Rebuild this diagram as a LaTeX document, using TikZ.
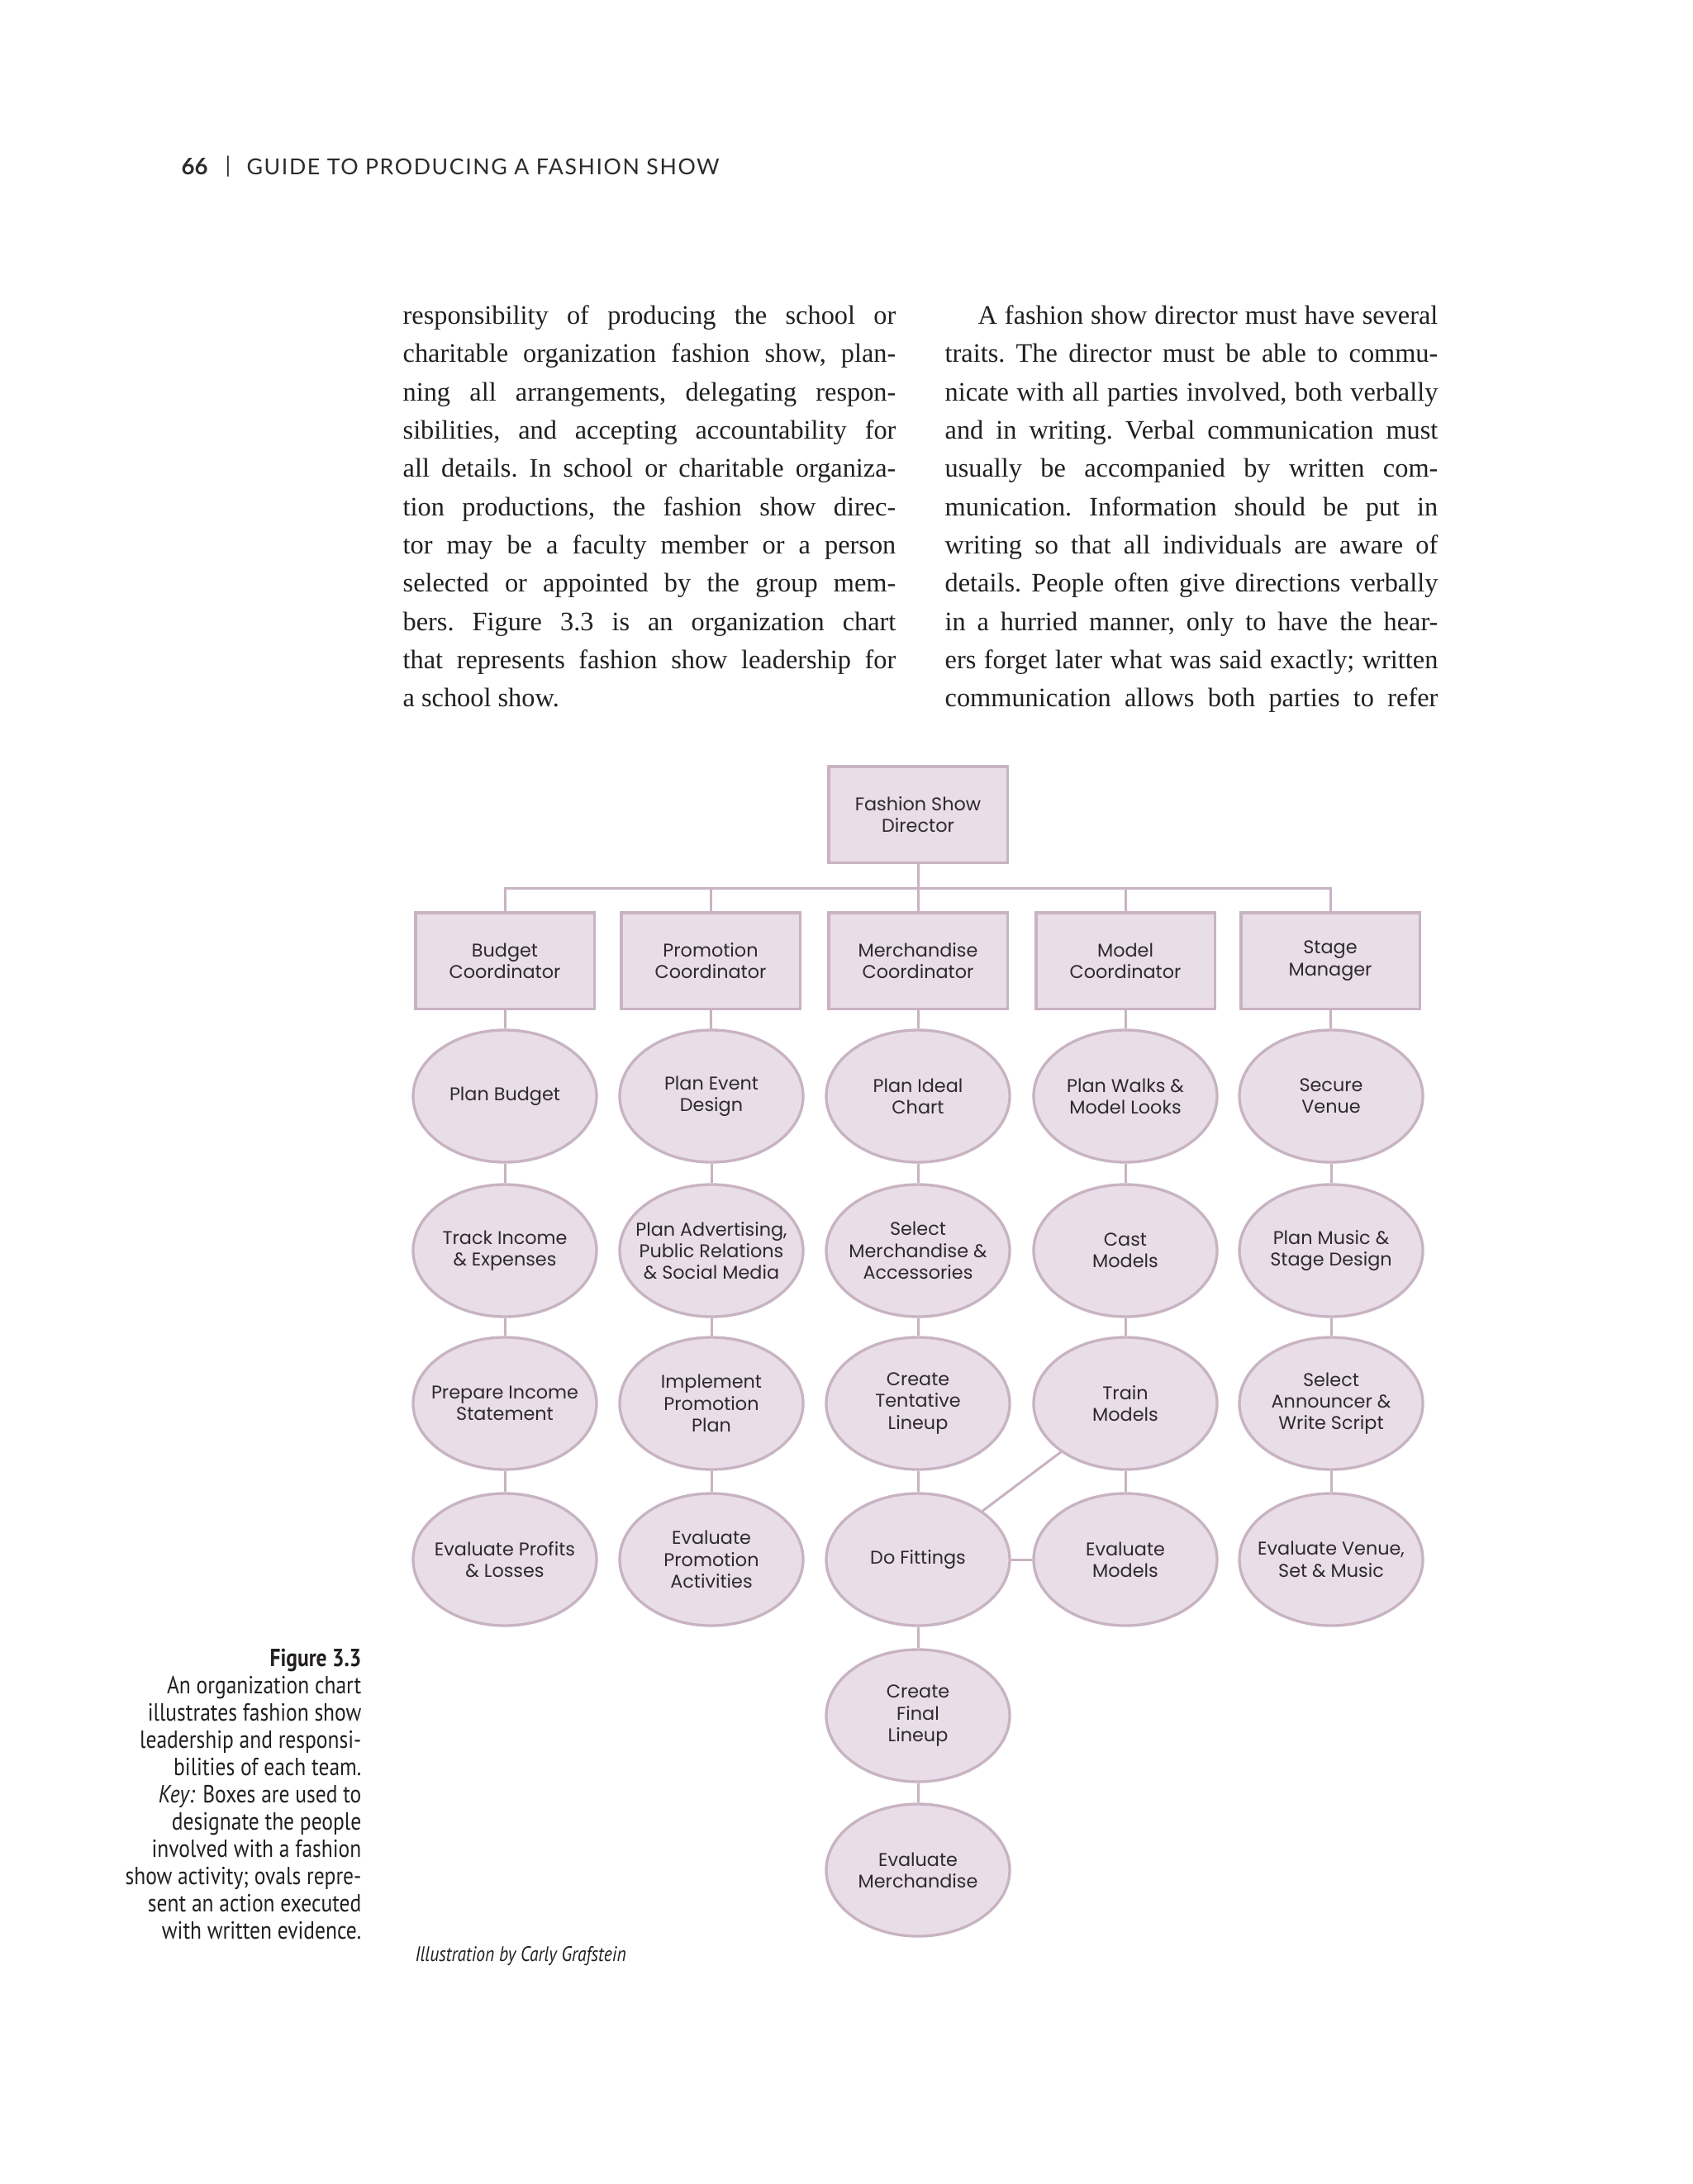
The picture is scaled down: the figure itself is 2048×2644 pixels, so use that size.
\documentclass[tikz,border=0pt]{standalone}
\usepackage{fontspec}
\setmainfont{Liberation Serif}
\newfontfamily\chartfont{Poppins}
\newfontfamily\headfont{Lato}
\newfontfamily\capfont{PT Sans}[FakeStretch=0.85]
\usetikzlibrary{shapes.geometric}
\definecolor{mauvefill}{HTML}{E9DEE7}
\definecolor{mauveline}{HTML}{C8B3C3}
\definecolor{inkgray}{HTML}{2E2A2E}
\definecolor{bodyink}{HTML}{231F20}
\tikzset{
  rolebox/.style={draw=mauveline,fill=mauvefill,line width=1.1pt,minimum width=65pt,minimum height=35pt,
    align=center,text=inkgray,font=\chartfont\fontsize{6.7}{7.9}\selectfont},
  task/.style={ellipse,draw=mauveline,fill=mauvefill,line width=1pt,minimum width=66.6pt,minimum height=48pt,
    inner xsep=-6pt,inner ysep=0pt,align=center,text=inkgray,font=\chartfont\fontsize{6.7}{7.9}\selectfont},
  link/.style={draw=mauveline,line width=0.9pt},
  bodytext/.style={text width=179pt,align=justify,inner sep=0pt,text=bodyink,font=\fontsize{9.7}{13.9}\selectfont},
  captext/.style={align=right,inner sep=0pt,text=bodyink,font=\capfont\fontsize{9}{9.9}\selectfont}
}
\begin{document}
\begin{tikzpicture}[x=0.3pt,y=-0.3pt]
\useasboundingbox (0,0) rectangle (2048,2644);
\fill[white] (0,0) rectangle (2048,2644);
\node[anchor=west,inner sep=0pt,text=inkgray,font=\headfont\bfseries\fontsize{8.3}{9}\selectfont] (pgnum) at (219,202) {66};
\node[anchor=west,inner sep=0pt,text=inkgray,font=\headfont\fontsize{8}{9}\selectfont] (pgbar) at (272,202) {|};
\node[anchor=west,inner sep=0pt,text=inkgray,font=\headfont\addfontfeature{LetterSpace=6}\fontsize{8}{9}\selectfont] (runhead) at (298,202) {GUIDE TO PRODUCING A FASHION SHOW};
\node[bodytext,anchor=north west] (colleft) at (487,369) {\frenchspacing
responsibility of producing the school or\linebreak
charitable organization fashion show, plan-\linebreak
ning all arrangements, delegating respon-\linebreak
sibilities, and accepting accountability for\linebreak
all details. In school or charitable organiza-\linebreak
tion productions, the fashion show direc-\linebreak
tor may be a faculty member or a person\linebreak
selected or appointed by the group mem-\linebreak
bers. Figure 3.3 is an organization chart\linebreak
that represents fashion show leadership for\linebreak
a school show.};
\node[bodytext,anchor=north west] (colright) at (1143,369) {\frenchspacing
\hspace*{12pt}A fashion show \mbox{director} must have several\linebreak
traits. The director must be able to commu-\linebreak
nicate with all parties involved, both verbally\linebreak
and in writing. Verbal communication must\linebreak
usually be accompanied by written com-\linebreak
munication. Information should be put in\linebreak
writing so that all individuals are aware of\linebreak
details. People often give directions verbally\linebreak
in a hurried manner, only to have the hear-\linebreak
ers forget later what was said exactly; written\linebreak
communication allows both parties to refer\linebreak};
\node[rolebox] (dir) at (1111,986) {Fashion Show\\Director};
\node[rolebox] (bud) at (611,1163) {Budget\\Coordinator};
\node[rolebox] (pro) at (860,1163) {Promotion\\Coordinator};
\node[rolebox] (mer) at (1111,1163) {Merchandise\\Coordinator};
\node[rolebox] (mod) at (1362,1163) {Model\\Coordinator};
\node[rolebox] (stg) at (1610,1163) {Stage\\Manager};
\coordinate (bar) at (1111,1075);
\node[task] (b1) at (611,1327) {Plan Budget};
\node[task] (b2) at (611,1514) {Track Income\\\& Expenses};
\node[task] (b3) at (611,1699) {Prepare Income\\Statement};
\node[task] (b4) at (611,1888) {Evaluate Profits\\\& Losses};
\node[task] (p1) at (861,1327) {Plan Event\\Design};
\node[task] (p2) at (861,1514) {Plan Advertising,\\Public Relations\\\& Social Media};
\node[task] (p3) at (861,1699) {Implement\\Promotion\\Plan};
\node[task] (p4) at (861,1888) {Evaluate\\Promotion\\Activities};
\node[task] (m1) at (1111,1327) {Plan Ideal\\Chart};
\node[task] (m2) at (1111,1514) {Select\\Merchandise \&\\Accessories};
\node[task] (m3) at (1111,1699) {Create\\Tentative\\Lineup};
\node[task] (m4) at (1111,1888) {Do Fittings};
\node[task] (m5) at (1111,2077) {Create\\Final\\Lineup};
\node[task] (m6) at (1111,2264) {Evaluate\\Merchandise};
\node[task] (o1) at (1362,1327) {Plan Walks \&\\Model Looks};
\node[task] (o2) at (1362,1514) {Cast\\Models};
\node[task] (o3) at (1362,1699) {Train\\Models};
\node[task] (o4) at (1362,1888) {Evaluate\\Models};
\node[task] (s1) at (1611,1327) {Secure\\Venue};
\node[task] (s2) at (1611,1514) {Plan Music \&\\Stage Design};
\node[task] (s3) at (1611,1699) {Select\\Announcer \&\\Write Script};
\node[task] (s4) at (1611,1888) {Evaluate Venue,\\Set \& Music};
\draw[link] (dir) -- (mer);
\draw[link] (bud.north) -- (bud.north |- bar) -- (stg.north |- bar) -- (stg.north);
\foreach \c in {pro,mod} \draw[link] (\c.north) -- (\c.north |- bar);
\foreach \a/\b in {bud/b1,b1/b2,b2/b3,b3/b4,pro/p1,p1/p2,p2/p3,p3/p4,mer/m1,m1/m2,m2/m3,m3/m4,m4/m5,m5/m6,
  mod/o1,o1/o2,o2/o3,o3/o4,stg/s1,s1/s2,s2/s3,s3/s4,o3/m4,m4/o4}
  \draw[link] (\a) -- (\b);
\node[captext,anchor=north east] (cap) at (438,1995) {\textbf{Figure 3.3}\\An organization chart\\illustrates fashion show\\leadership and responsi-\\bilities of each team.\\\textit{Key:} Boxes are used to\\designate the people\\involved with a fashion\\show activity; ovals repre-\\sent an action executed\\with written evidence.};
\node[anchor=west,inner sep=0pt,text=bodyink,font=\capfont\itshape\fontsize{7.6}{8}\selectfont] (credit) at (502,2368) {Illustration by Carly Grafstein};
\end{tikzpicture}
\end{document}
